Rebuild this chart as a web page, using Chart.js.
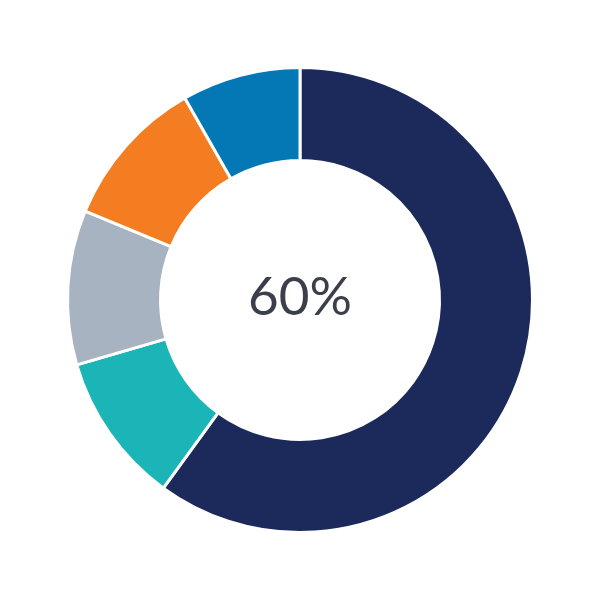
<!DOCTYPE html>
<html>
<head>
<meta charset="utf-8">
<script src="https://cdn.jsdelivr.net/npm/chart.js@4"></script>
<style>
  html, body { margin: 0; padding: 0; background: #fff; }
  #wrap { position: relative; width: 600px; height: 600px; }
  #centerLabel {
    position: absolute; left: 0; top: 0; width: 600px; height: 600px;
    display: flex; align-items: center; justify-content: center;
    font-family: Lato, "Open Sans", sans-serif; font-weight: 400;
    font-size: 53px; color: #3a3f4a; pointer-events: none;
    padding-bottom: 12px; box-sizing: border-box;
  }
</style>
</head>
<body>
<div id="wrap">
  <canvas id="donut" width="600" height="600"></canvas>
  <div id="centerLabel">60%</div>
</div>
<script>
// segment shares, clockwise from 12 o'clock
const labels = ['Main', 'Teal', 'Gray', 'Orange', 'Blue'];
const shares = [60, 10.5, 10.75, 10.5, 8.25];
const colors = ['#1b2a5a', '#1bb5b7', '#a8b3c2', '#f37d20', '#0478b5'];

new Chart(document.getElementById('donut'), {
  type: 'doughnut',
  data: {
    labels,
    datasets: [{
      data: shares,
      backgroundColor: colors,
      borderColor: '#fff',
      borderWidth: 3
    }]
  },
  options: {
    responsive: false,
    animation: false,
    cutout: '60%',
    layout: { padding: 66 },
    plugins: {
      legend: { display: false },
      tooltip: { enabled: false }
    }
  }
});
</script>
</body>
</html>
